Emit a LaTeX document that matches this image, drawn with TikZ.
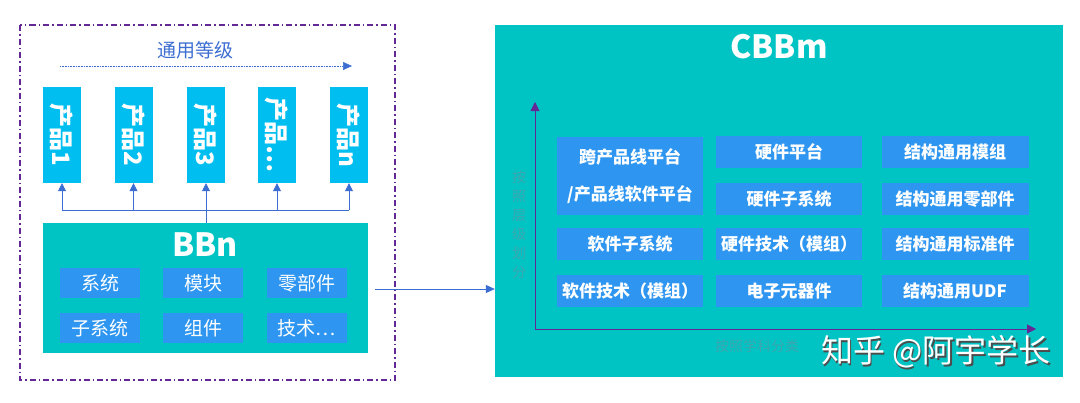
\documentclass[tikz,border=0pt]{standalone}
\usepackage{fontspec}
\setmainfont{Noto Sans CJK SC}
\usetikzlibrary{arrows.meta}
\definecolor{teal1}{RGB}{0,196,196}
\definecolor{cyanb}{RGB}{0,190,240}
\definecolor{blueb}{RGB}{46,150,240}
\definecolor{purp}{RGB}{100,40,150}
\definecolor{lnb}{RGB}{60,110,210}
\definecolor{faint}{RGB}{60,165,175}
\begin{document}
\begin{tikzpicture}[x=1pt,y=-1pt,
 prod/.style={fill=cyanb,minimum width=38pt,minimum height=96pt,inner sep=0pt},
 prodtxt/.style={text=white,font=\fontsize{24}{24}\selectfont\bfseries,rotate=-90},
 lbox/.style={fill=blueb,minimum width=80pt,minimum height=30pt,inner sep=0pt,text=white,font=\fontsize{19}{19}\selectfont},
 rbox/.style={fill=blueb,minimum width=146pt,minimum height=32pt,inner sep=0pt,text=white,font=\fontsize{17}{17}\selectfont\bfseries},
 up/.style={-{Triangle[width=8pt,length=8pt]},lnb,line width=0.8pt},
 ax/.style={-{Triangle[width=9pt,length=9pt]},purp,line width=0.8pt}]
\useasboundingbox (0,0) rectangle (1080,402);
\fill[white] (0,0) rectangle (1080,402);
\draw[purp,line width=1.2pt,dash pattern=on 6pt off 3pt on 1.5pt off 3pt] (20,25) rectangle (395,380);
\node[text=lnb,font=\fontsize{19}{19}\selectfont] (tg) at (195,50) {通用等级};
\coordinate (da) at (60,66); \coordinate (db) at (352,66);
\draw[lnb,densely dotted,line width=0.6pt,-{Triangle[width=8pt,length=9pt]}] (da) -- (db);
\foreach \n/\x/\t in {p1/62/产品1,p2/133.5/产品2,p3/206/产品3,p4/277/产品…,p5/349/产品n}{
 \node[prod] (\n) at (\x,135) {};
 \node[prodtxt] at (\x,135) {\t};
}
\node[fill=teal1,minimum width=325pt,minimum height=130pt,inner sep=0pt] (bbn) at (205.5,288) {};
\node[text=white,font=\fontsize{32}{32}\selectfont\bfseries] (bbt) at (205,245) {BBn};
\node[lbox] (a1) at (100,283) {系统};
\node[lbox] (a2) at (203,283) {模块};
\node[lbox] (a3) at (307,283) {零部件};
\node[lbox] (a4) at (100,328) {子系统};
\node[lbox] (a5) at (203,328) {组件};
\node[lbox] (a6) at (307,328) {技术…};
\coordinate (bus) at (206,210);
\draw[lnb,line width=0.8pt] (bbn.north -| bus) -- (bus);
\draw[lnb,line width=0.8pt] (p1.south |- bus) -- (p5.south |- bus);
\foreach \n in {p1,p2,p3,p4,p5}{\draw[up] (\n.south |- bus) -- (\n.south);}
\node[fill=teal1,minimum width=568pt,minimum height=352pt,inner sep=0pt] (cb) at (779,201) {};
\draw[lnb,line width=0.8pt,-{Triangle[width=8pt,length=9pt]}] (375,289) -- (cb.west |- 0,289);
\node[text=white,font=\fontsize{32}{32}\selectfont\bfseries] (cbt) at (779,47) {CBBm};
\coordinate (o) at (535,329);
\coordinate (yt) at (535,102);
\coordinate (xr) at (1036,329);
\draw[ax] (o) -- (yt);
\draw[ax] (o) -- (xr);
\node[text=faint,font=\fontsize{14}{19}\selectfont,align=center] (yl) at (519,225) {按\\照\\层\\级\\划\\分};
\node[text=faint,font=\fontsize{14}{14}\selectfont] (xl) at (757,346) {按照学科分类};
\node[rbox,minimum height=78pt,align=center] (b1) at (630,176) {跨产品线平台\\[20pt]/产品线软件平台};
\node[rbox] (b2) at (630,244) {软件子系统};
\node[rbox] (b3) at (630,291) {软件技术（模组）};
\node[rbox] (c1) at (789,152) {硬件平台};
\node[rbox] (c2) at (789,199) {硬件子系统};
\node[rbox] (c3) at (789,244) {硬件技术（模组）};
\node[rbox] (c4) at (789,291) {电子元器件};
\node[rbox,minimum width=147pt] (d1) at (955,152) {结构通用模组};
\node[rbox,minimum width=147pt] (d2) at (955,199) {结构通用零部件};
\node[rbox,minimum width=147pt] (d3) at (955,244) {结构通用标准件};
\node[rbox,minimum width=147pt] (d4) at (955,291) {结构通用UDF};
\node[text=gray!60!black,font=\fontsize{32}{32}\selectfont] at (937.5,353.5) {知乎 @阿宇学长};
\node[text=white,font=\fontsize{32}{32}\selectfont] (wm) at (936,352) {知乎 @阿宇学长};
\end{tikzpicture}
\end{document}
